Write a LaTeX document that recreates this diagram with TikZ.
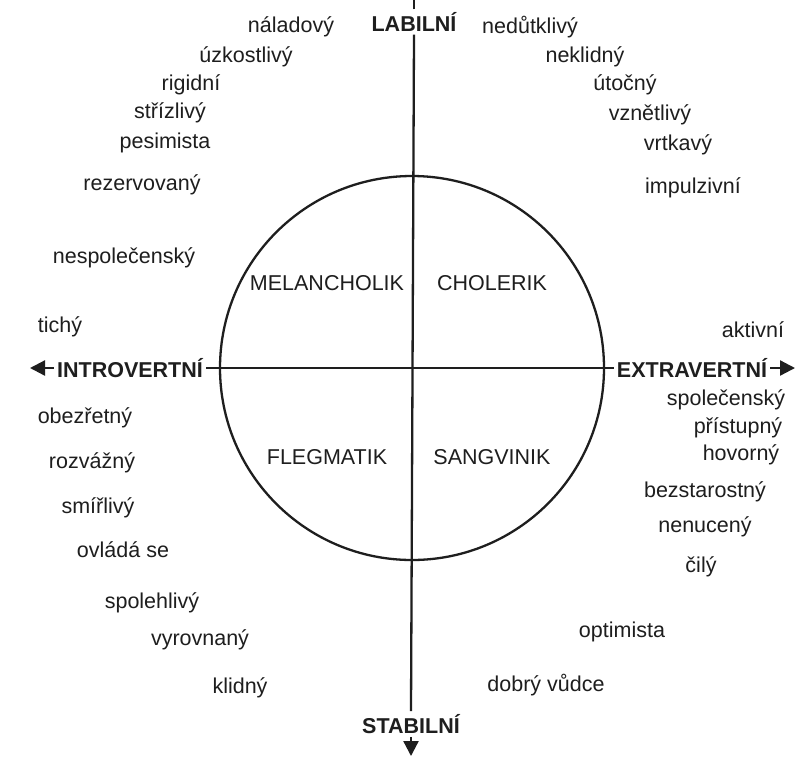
\documentclass[tikz,border=0pt]{standalone}
\usepackage{fontspec}
\setmainfont{Liberation Sans}
\usetikzlibrary{arrows.meta}
\definecolor{ink}{HTML}{1E1E1E}
\begin{document}
\begin{tikzpicture}[x=1pt,y=-1pt,
  word/.style={text=ink,inner sep=2pt,font=\fontsize{21.5}{24}\selectfont},
  axislabel/.style={text=ink,inner sep=3pt,font=\fontsize{21.5}{24}\selectfont\bfseries},
  quad/.style={text=ink,inner sep=2pt,font=\fontsize{21.5}{24}\selectfont},
  axisline/.style={draw=ink,line width=2.3pt},
  arrowline/.style={draw=ink,line width=2.3pt,-{Triangle[length=15pt,width=15pt]}}]
\clip (0,0) rectangle (800,780);
\useasboundingbox (0,0) rectangle (800,780);
\fill[white] (0,0) rectangle (800,780);
% circle
\node[circle,draw=ink,line width=2.3pt,minimum size=384pt,inner sep=0pt] (circ) at (412,368) {};
% axis labels
\node[axislabel] (labil) at (414,22) {LABILNÍ};
\node[axislabel] (stabil) at (411,724) {STABILNÍ};
\node[axislabel] (intro) at (130,368) {INTROVERTNÍ};
\node[axislabel] (extra) at (692,368) {EXTRAVERTNÍ};
\coordinate (topend) at (414,-20);
\coordinate (botend) at (411,756);
\coordinate (leftend) at (30,368);
\coordinate (rightend) at (795,368);
% axes
\draw[axisline] (labil.south) -- (stabil.north);
\draw[axisline] (intro.east) -- (extra.west);
\draw[arrowline] (labil.north) -- (topend);
\draw[arrowline] (stabil.south) -- (botend);
\draw[arrowline] (intro.west) -- (leftend);
\draw[arrowline] (extra.east) -- (rightend);
% quadrants
\node[quad] (mel) at (327,283) {MELANCHOLIK};
\node[quad] (cho) at (492,283) {CHOLERIK};
\node[quad] (fle) at (327,457) {FLEGMATIK};
\node[quad] (san) at (492,457) {SANGVINIK};
% left upper
\node[word] (w1) at (291,27) {náladový};
\node[word] (w2) at (246,57) {úzkostlivý};
\node[word] (w3) at (191,85) {rigidní};
\node[word] (w4) at (170,113) {střízlivý};
\node[word] (w5) at (165,143) {pesimista};
\node[word] (w6) at (142,185) {rezervovaný};
\node[word] (w7) at (124,258) {nespolečenský};
\node[word] (w8) at (60,327) {tichý};
% left lower
\node[word] (w9) at (85,418) {obezřetný};
\node[word] (w10) at (92,463) {rozvážný};
\node[word] (w11) at (98,508) {smířlivý};
\node[word] (w12) at (123,550) {ovládá se};
\node[word] (w13) at (152,603) {spolehlivý};
\node[word] (w14) at (200,640) {vyrovnaný};
\node[word] (w15) at (240,688) {klidný};
% right upper
\node[word] (w16) at (530,27) {nedůtklivý};
\node[word] (w17) at (585,57) {neklidný};
\node[word] (w18) at (625,85) {útočný};
\node[word] (w19) at (650,115) {vznětlivý};
\node[word] (w20) at (678,145) {vrtkavý};
\node[word] (w21) at (693,188) {impulzivní};
\node[word] (w22) at (753,330) {aktivní};
% right lower
\node[word] (w23) at (726,400) {společenský};
\node[word] (w24) at (738,428) {přístupný};
\node[word] (w25) at (741,455) {hovorný};
\node[word] (w26) at (705,492) {bezstarostný};
\node[word] (w27) at (705,527) {nenucený};
\node[word] (w28) at (701,567) {čilý};
\node[word] (w29) at (622,632) {optimista};
\node[word] (w30) at (546,685) {dobrý vůdce};
\end{tikzpicture}
\end{document}
